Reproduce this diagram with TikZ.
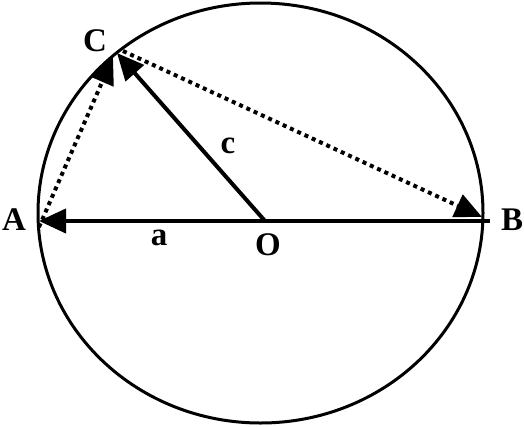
\documentclass[tikz,border=0pt]{standalone}
\usepackage{fontspec}
\setmainfont{Liberation Serif}
\usetikzlibrary{arrows.meta}
\begin{document}
\begin{tikzpicture}[x=1pt,y=-1pt,
  lbl/.style={font=\fontsize{33}{38}\selectfont\bfseries, inner sep=0pt},
  solidline/.style={line width=4pt},
  dotline/.style={line width=4pt, dash pattern=on 4pt off 4pt},
  bigtip/.style={-{Triangle[length=27pt,width=24pt]}}]
\useasboundingbox (0,0) rectangle (524,426);
\draw[line width=3pt] (260.5,213) ellipse [x radius=222.5, y radius=210];
\coordinate (A) at (39,221);
\coordinate (O) at (265,221);
\coordinate (Bend) at (490,221);
\coordinate (Btip) at (482,217);
\coordinate (C) at (117,53);
\coordinate (Ctip) at (113,57);
\draw[solidline] (O) -- (Bend);
\draw[solidline, bigtip] (O) -- (A);
\draw[solidline, bigtip] (O) -- (C);
\draw[dotline, bigtip] ([yshift=-6pt]A) -- (Ctip);
\draw[dotline, bigtip] ([xshift=6pt,yshift=2pt]C) -- (Btip);
\node[lbl] (lA) at (14,220) {A};
\node[lbl] (lB) at (512,220) {B};
\node[lbl] (lC) at (95,41) {C};
\node[lbl] (lO) at (268,245) {O};
\node[lbl] (la) at (159,238) {a};
\node[lbl] (lc) at (228,146) {c};
\end{tikzpicture}
\end{document}
